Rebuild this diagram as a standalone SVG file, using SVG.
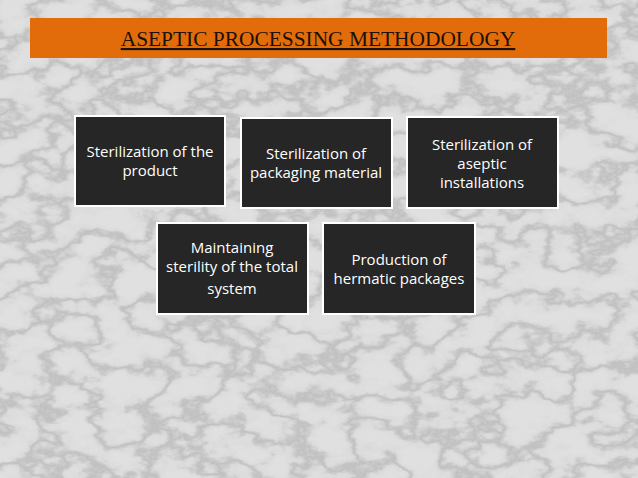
<svg xmlns="http://www.w3.org/2000/svg" width="638" height="478" viewBox="0 0 638 478">
<style>
.box{fill:#262626;stroke:#ffffff;stroke-width:2}
.t{font-family:"Open Sans","Liberation Sans",Arial,sans-serif;font-size:15px;fill:#ffffff;text-anchor:middle}
.title{font-family:"Liberation Serif","Times New Roman",serif;font-size:21.4px;fill:#1c1008;text-anchor:middle;text-decoration:underline}
</style>
<defs>
<filter id="marble" x="0" y="0" width="100%" height="100%">
<feTurbulence type="fractalNoise" baseFrequency="0.02 0.03" numOctaves="5" seed="11" result="n"/>
<feComponentTransfer in="n" result="v">
<feFuncR type="table" tableValues="0 0 0 0 0.15 1 0.15 0 0 0 0"/>
<feFuncG type="table" tableValues="0 0 0 0 0.15 1 0.15 0 0 0 0"/>
<feFuncB type="table" tableValues="0 0 0 0 0.15 1 0.15 0 0 0 0"/>
<feFuncA type="table" tableValues="1 1"/>
</feComponentTransfer>
<feColorMatrix in="v" type="matrix" values="0 0 0 0 0  0 0 0 0 0  0 0 0 0 0  0.38 0 0 0 0" result="a"/>
<feFlood flood-color="#8c8c8c" result="c"/>
<feComposite in="c" in2="a" operator="in"/>
</filter>
</defs>
<rect x="0" y="0" width="638" height="478" fill="#e0e0e0"/>
<rect x="0" y="0" width="638" height="478" filter="url(#marble)"/>
<g id="title">
<rect x="30" y="18" width="577" height="40" fill="#e36c0a"/>
<text class="title" x="318" y="46">ASEPTIC PROCESSING METHODOLOGY</text>
</g>
<g id="connectors"></g>
<g id="n1">
<rect class="box" x="75" y="116" width="150" height="90"/>
<text class="t" x="150" y="157">Sterilization of the</text>
<text class="t" x="150" y="176">product</text>
</g>
<g id="n2">
<rect class="box" x="241" y="118" width="151" height="90"/>
<text class="t" x="316" y="159">Sterilization of</text>
<text class="t" x="316" y="178">packaging material</text>
</g>
<g id="n3">
<rect class="box" x="407" y="117" width="151" height="91"/>
<text class="t" x="482" y="150">Sterilization of</text>
<text class="t" x="482" y="169">aseptic</text>
<text class="t" x="482" y="188">installations</text>
</g>
<g id="n4">
<rect class="box" x="157" y="223" width="151" height="91"/>
<text class="t" x="232" y="253">Maintaining</text>
<text class="t" x="232" y="272">sterility of the total</text>
<text class="t" x="232" y="294">system</text>
</g>
<g id="n5">
<rect class="box" x="323" y="223" width="152" height="91"/>
<text class="t" x="399" y="265">Production of</text>
<text class="t" x="399" y="284">hermatic packages</text>
</g>
</svg>
